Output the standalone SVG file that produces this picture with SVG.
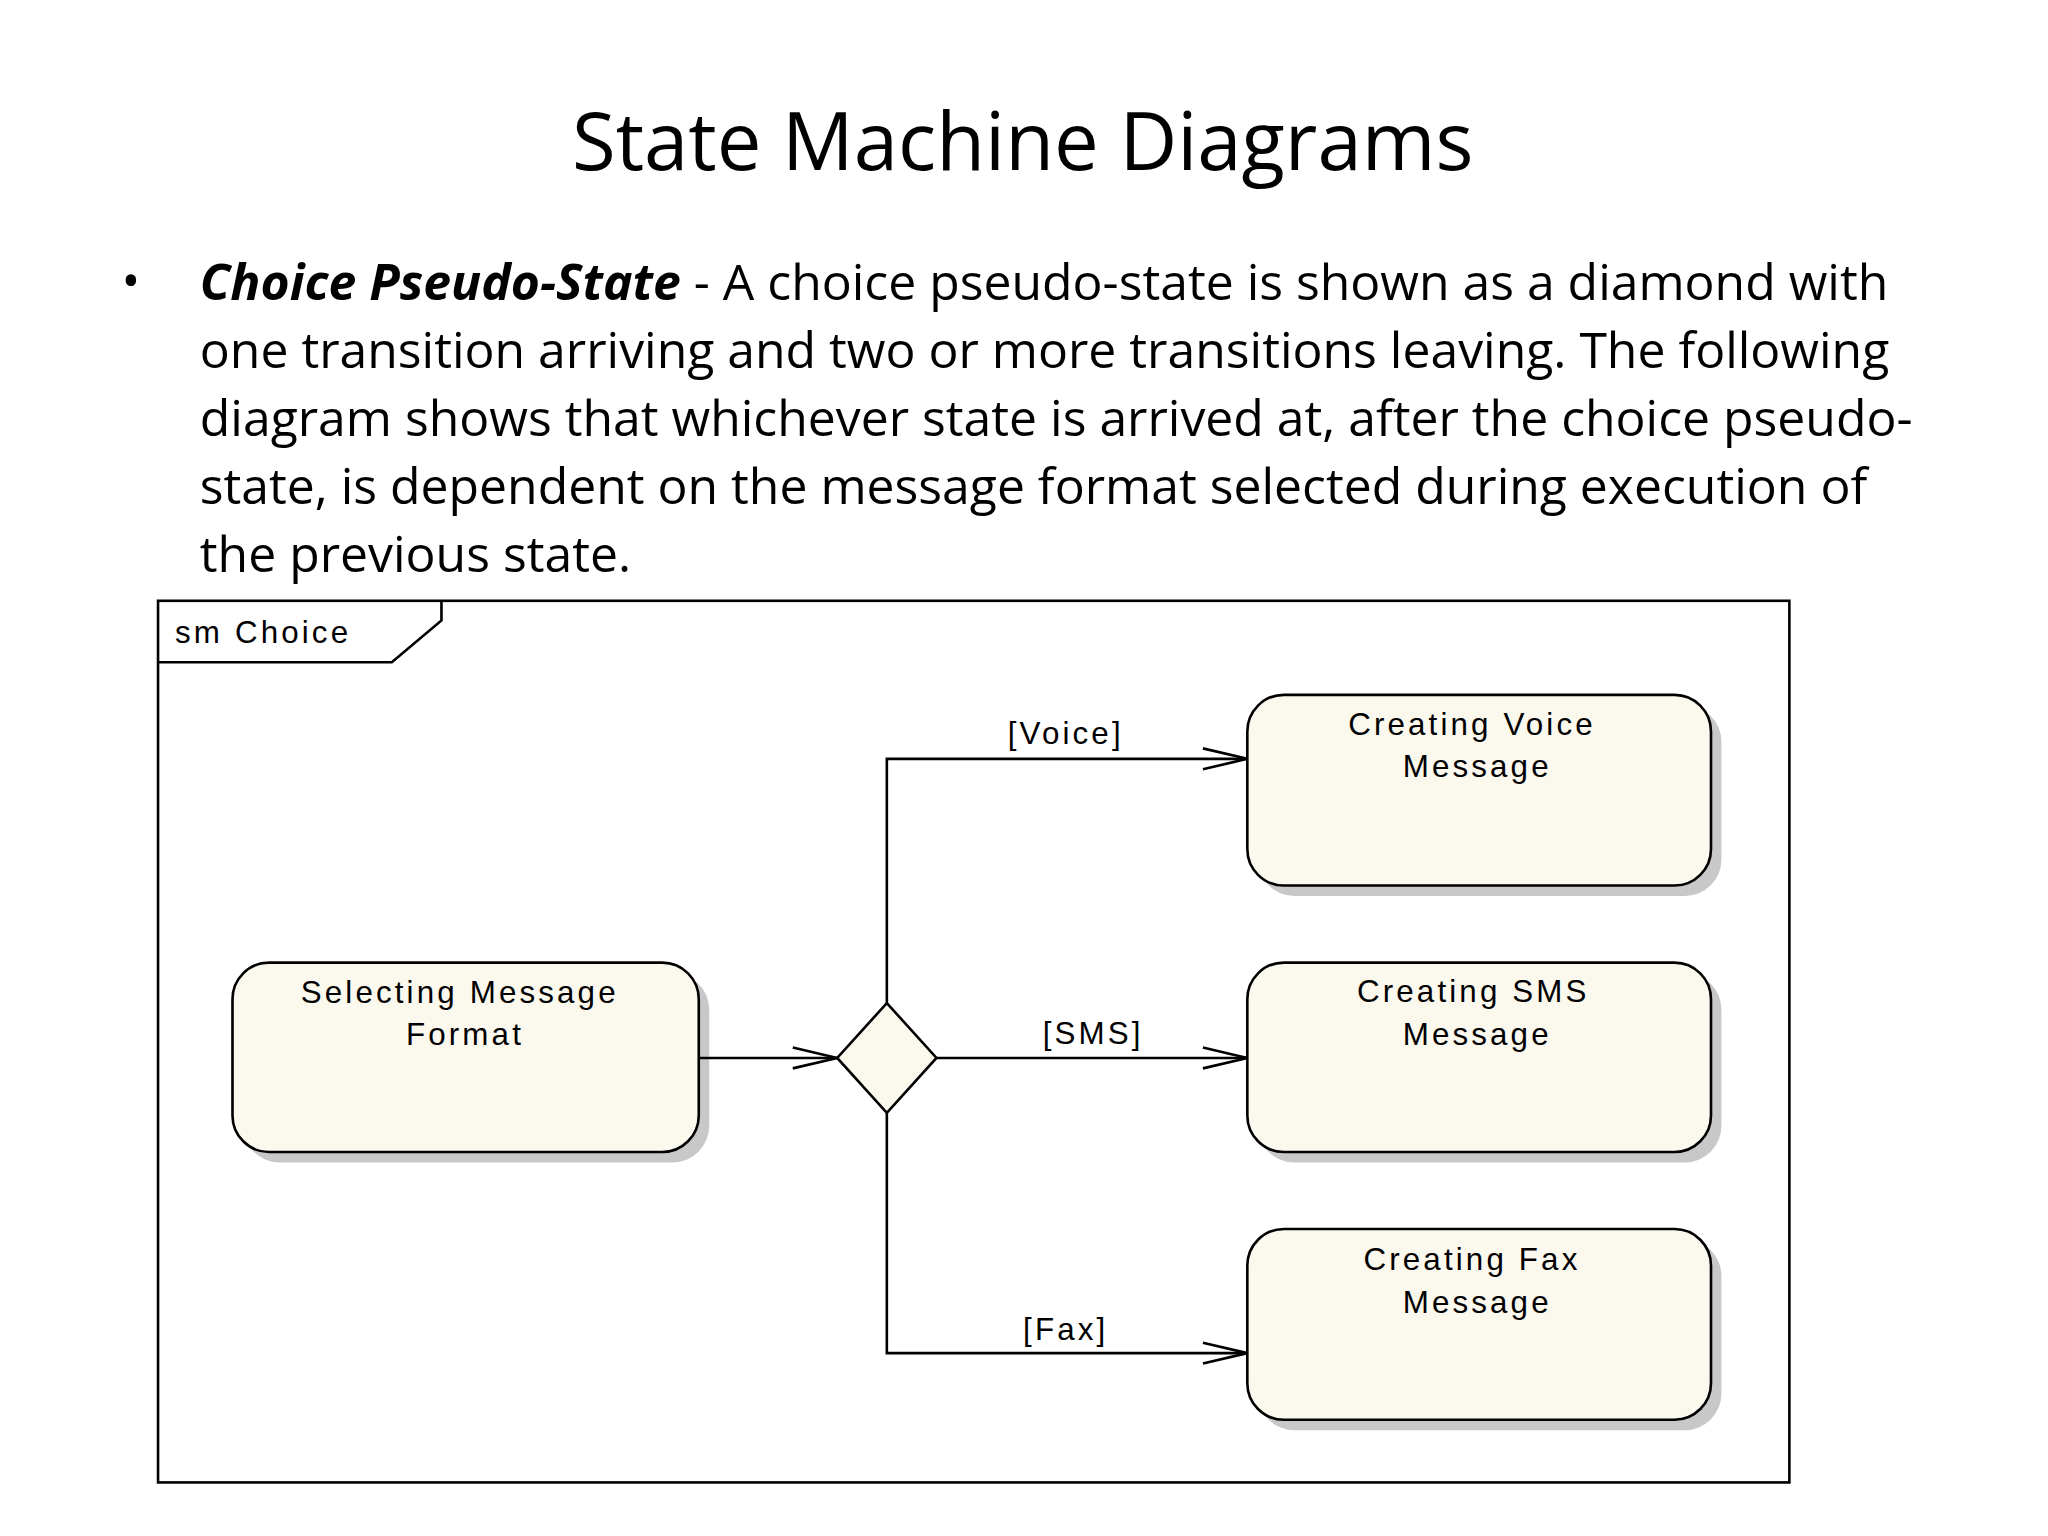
<svg xmlns="http://www.w3.org/2000/svg" width="2048" height="1536" viewBox="0 0 2048 1536">
<style>
.t{font-family:"Open Sans","Liberation Sans",sans-serif;fill:#000}
.d{font-family:"Liberation Sans",Arial,sans-serif;font-size:24px;letter-spacing:2.4px;fill:#000}
.st{fill:#fbf8ee;stroke:#000;stroke-width:2}
.sh{fill:#c8c8c8}
.c{fill:none;stroke:#000;stroke-width:2}
</style>
<defs><marker id="a" markerWidth="40" markerHeight="20" refX="36" refY="10" orient="auto" markerUnits="userSpaceOnUse"><path d="M2,2 L36,10 L2,18" fill="none" stroke="#000" stroke-width="2"/></marker></defs>
<rect width="2048" height="1536" fill="#fff"/>
<g transform="scale(1.3061)">
<text class="t" x="783" y="130" font-size="61" text-anchor="middle">State Machine Diagrams</text>
<g class="t" font-size="38.2">
<text x="93" y="228">•</text>
<text x="153" y="230"><tspan font-weight="bold" font-style="italic">Choice Pseudo-State</tspan> - A choice pseudo-state is shown as a diamond with</text>
<text x="153" y="282">one transition arriving and two or more transitions leaving. The following</text>
<text x="153" y="334">diagram shows that whichever state is arrived at, after the choice pseudo-</text>
<text x="153" y="386">state, is dependent on the message format selected during execution of</text>
<text x="153" y="438">the previous state.</text>
</g>
<g id="frame"><rect x="121" y="460" width="1249" height="675" fill="#fff" stroke="#000" stroke-width="2"/>
<path d="M121,507 H300 L338,475 V460" fill="none" stroke="#000" stroke-width="2"/>
<text class="d" x="134" y="492">sm Choice</text></g>
<g id="selecting"><rect class="sh" x="186" y="745" width="357" height="145" rx="28"/><rect class="st" x="178" y="737" width="357" height="145" rx="28"/><text class="d" x="352" y="768" text-anchor="middle">Selecting Message</text><text class="d" x="356" y="800" text-anchor="middle">Format</text></g>
<g id="voice"><rect class="sh" x="963" y="540" width="355" height="146" rx="28"/><rect class="st" x="955" y="532" width="355" height="146" rx="28"/><text class="d" x="1127" y="563" text-anchor="middle">Creating Voice</text><text class="d" x="1131" y="595" text-anchor="middle">Message</text></g>
<g id="sms"><rect class="sh" x="963" y="745" width="355" height="145" rx="28"/><rect class="st" x="955" y="737" width="355" height="145" rx="28"/><text class="d" x="1128" y="767" text-anchor="middle">Creating SMS</text><text class="d" x="1131" y="800" text-anchor="middle">Message</text></g>
<g id="fax"><rect class="sh" x="963" y="949" width="355" height="146" rx="28"/><rect class="st" x="955" y="941" width="355" height="146" rx="28"/><text class="d" x="1127" y="972" text-anchor="middle">Creating Fax</text><text class="d" x="1131" y="1005" text-anchor="middle">Message</text></g>
<g id="choice"><polygon points="679,768 717,810 679,852 641,810" class="st"/></g>
<g id="connectors">
<path class="c" d="M535,810 H641" marker-end="url(#a)"/>
<path class="c" d="M717,810 H955" marker-end="url(#a)"/>
<path class="c" d="M679,768 V581 H955" marker-end="url(#a)"/>
<path class="c" d="M679,852 V1036 H955" marker-end="url(#a)"/>
<text class="d" x="816" y="570" text-anchor="middle">[Voice]</text>
<text class="d" x="837" y="799" text-anchor="middle">[SMS]</text>
<text class="d" x="816" y="1026" text-anchor="middle">[Fax]</text>
</g>
</g>
</svg>
